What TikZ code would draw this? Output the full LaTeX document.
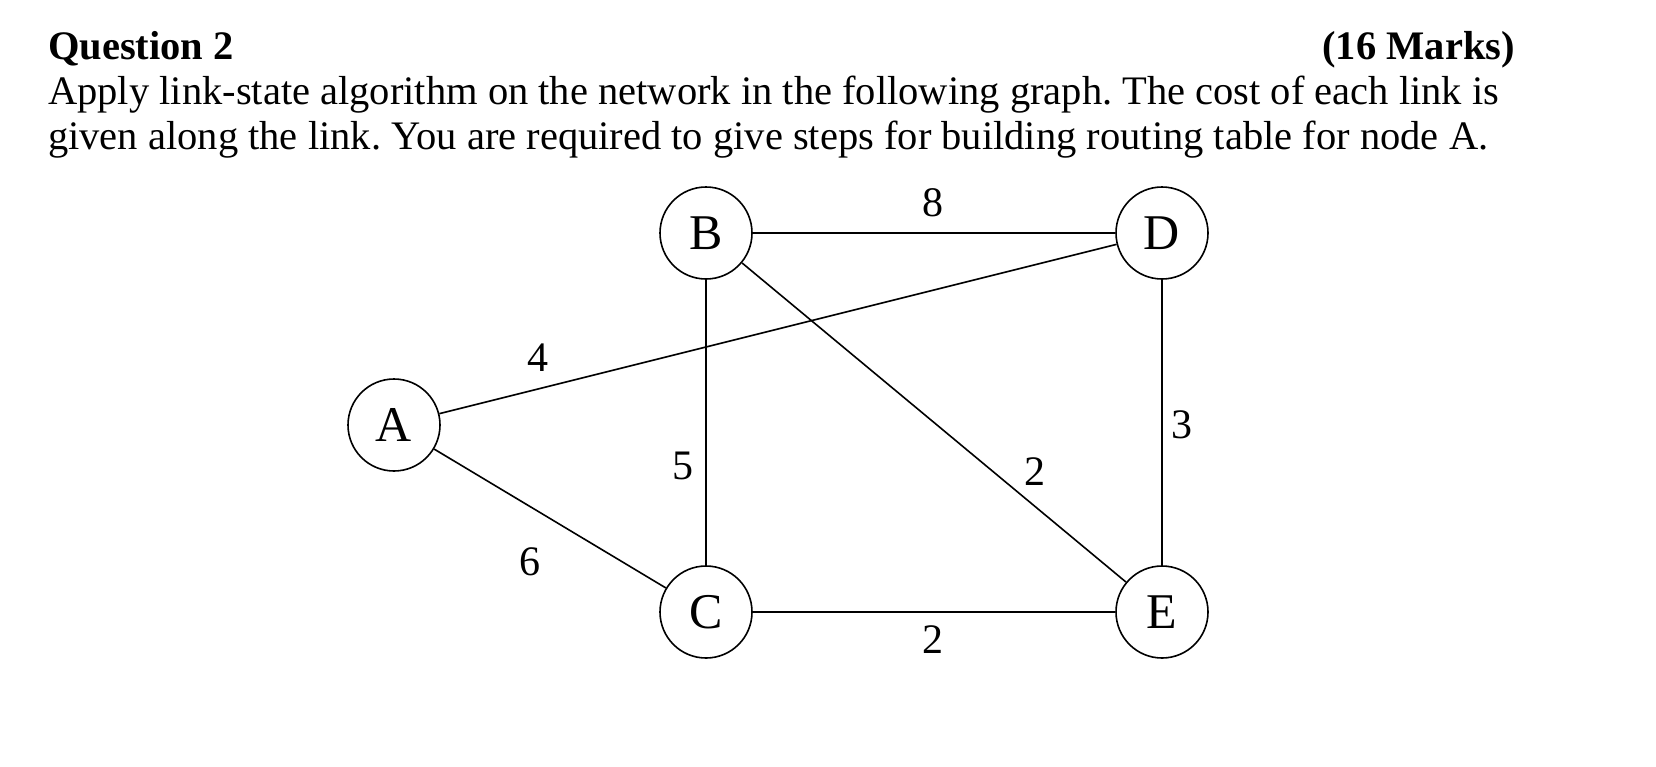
\documentclass[tikz,border=0pt]{standalone}
\usepackage{fontspec}
\setmainfont{Liberation Serif}
\frenchspacing
\begin{document}
\begin{tikzpicture}[x=1pt,y=-1pt,
  vert/.style={circle,draw,line width=1.6pt,minimum size=92pt,inner sep=0pt,font=\fontsize{50}{50}\selectfont},
  edge/.style={line width=1.6pt},
  lab/.style={font=\fontsize{42}{42}\selectfont,inner sep=0pt},
  txt/.style={font=\fontsize{40.5}{40}\selectfont,inner sep=0pt,anchor=base west}]
\useasboundingbox (0,0) rectangle (1656,766);
\node[txt,font=\fontsize{40.5}{40}\selectfont\bfseries] (q) at (48,59) {Question 2};
\node[txt,anchor=base east,font=\fontsize{40.5}{40}\selectfont\bfseries] (m) at (1515,59) {(16 Marks)};
\node[txt] (l1) at (48,104) {Apply link-state algorithm on the network in the following graph. The cost of each link is};
\node[txt] (l2) at (48,149) {given along the link. You are required to give steps for building routing table for node A.};
\node[vert] (A) at (394,425) {A};
\node[vert] (B) at (706,233) {B};
\node[vert] (D) at (1162,233) {D};
\node[vert] (C) at (706,612) {C};
\node[vert] (E) at (1162,612) {E};
\draw[edge] (B) -- (D);
\draw[edge] (A) -- (D);
\draw[edge] (B) -- (C);
\draw[edge] (B) -- (E);
\draw[edge] (D) -- (E);
\draw[edge] (A) -- (C);
\draw[edge] (C) -- (E);
\node[lab] (l8) at (933,203) {8};
\node[lab] (l4) at (538,358) {4};
\node[lab] (l3) at (1182,425) {3};
\node[lab] (l5) at (683,466) {5};
\node[lab] (l2b) at (1035,472) {2};
\node[lab] (l6) at (530,562) {6};
\node[lab] (l2c) at (933,640) {2};
\end{tikzpicture}
\end{document}
